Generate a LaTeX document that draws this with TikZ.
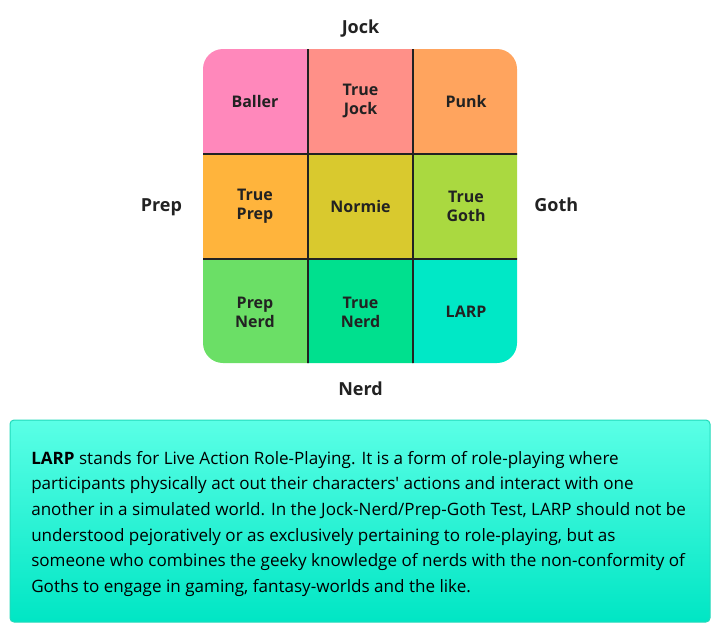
\documentclass[tikz,border=0pt]{standalone}
\usepackage{fontspec}
\setmainfont{Open Sans}
\newfontfamily\notefont{Open Sans}
\usetikzlibrary{positioning}
\definecolor{inkdark}{HTML}{222222}
\definecolor{ballerpink}{HTML}{FF88BB}
\definecolor{jocksalmon}{HTML}{FF9088}
\definecolor{punkorange}{HTML}{FFA45E}
\definecolor{prepamber}{HTML}{FFB43C}
\definecolor{normieolive}{HTML}{D9C92E}
\definecolor{gothlime}{HTML}{AAD940}
\definecolor{prepnerdgreen}{HTML}{6BDF66}
\definecolor{nerdgreen}{HTML}{00E08E}
\definecolor{larpteal}{HTML}{00E8C6}
\definecolor{notetop}{HTML}{5AFFE6}
\definecolor{notebottom}{HTML}{00E6C4}
\definecolor{noteedge}{HTML}{22D9BA}

\begin{document}
\begin{tikzpicture}[
  x=0.75pt, y=-0.75pt,
  cell/.style={rectangle, minimum size=78.75pt, inner sep=0pt, align=center,
    text=inkdark, font=\bfseries\fontsize{12}{14.25}\selectfont},
  axislabel/.style={text=inkdark, inner sep=0pt, text height=1.4ex, text depth=0pt,
    font=\bfseries\fontsize{13.5}{16}\selectfont},
  gridline/.style={draw=inkdark, line width=1.5pt}
]
  \useasboundingbox (0,0) rectangle (722,637);
  % colour grid
  \begin{scope}
    \clip[rounded corners=15pt] (203,49) rectangle (517,363);
    \node[cell, fill=ballerpink] (baller) at (255,101) {Baller};
    \node[cell, fill=jocksalmon, right=0pt of baller] (truejock) {True\\Jock};
    \node[cell, fill=punkorange, right=0pt of truejock] (punk) {Punk};
    \node[cell, fill=prepamber, below=0pt of baller] (trueprep) {True\\Prep};
    \node[cell, fill=normieolive, right=0pt of trueprep] (normie) {Normie};
    \node[cell, fill=gothlime, right=0pt of normie] (truegoth) {True\\Goth};
    \node[cell, fill=prepnerdgreen, below=0pt of trueprep] (prepnerd) {Prep\\Nerd};
    \node[cell, fill=nerdgreen, right=0pt of prepnerd] (truenerd) {True\\Nerd};
    \node[cell, fill=larpteal, right=0pt of truenerd] (larp) {LARP};
    \draw[gridline] (baller.north east) -- (prepnerd.south east);
    \draw[gridline] (truejock.north east) -- (truenerd.south east);
    \draw[gridline] (baller.south west) -- (punk.south east);
    \draw[gridline] (trueprep.south west) -- (truegoth.south east);
  \end{scope}
  % axis labels
  \node[axislabel, above=11pt of truejock] (jock) {Jock};
  \node[axislabel, below=15.5pt of truenerd] (nerd) {Nerd};
  \node[axislabel, left=15pt of trueprep] (prep) {Prep};
  \node[axislabel, right=11.5pt of truegoth] (goth) {Goth};
  % explanation box
  \shade[top color=notetop, bottom color=notebottom, draw=noteedge, line width=0.75pt,
    rounded corners=3pt] (10,420) rectangle (710,622);
  \node[anchor=north west, align=left, inner sep=0pt, text=black,
    font=\notefont\fontsize{12.8}{19.2}\selectfont] (note) at (31,451)
    {\textbf{LARP} stands for Live Action Role-Playing. It is a form of role-playing where\\
     participants physically act out their characters' actions and interact with one\\
     another in a simulated world. In the Jock-Nerd/Prep-Goth Test, LARP should not be\\
     understood pejoratively or as exclusively pertaining to role-playing, but as\\
     someone who combines the geeky knowledge of nerds with the non-conformity of\\
     Goths to engage in gaming, fantasy-worlds and the like.};
\end{tikzpicture}
\end{document}
